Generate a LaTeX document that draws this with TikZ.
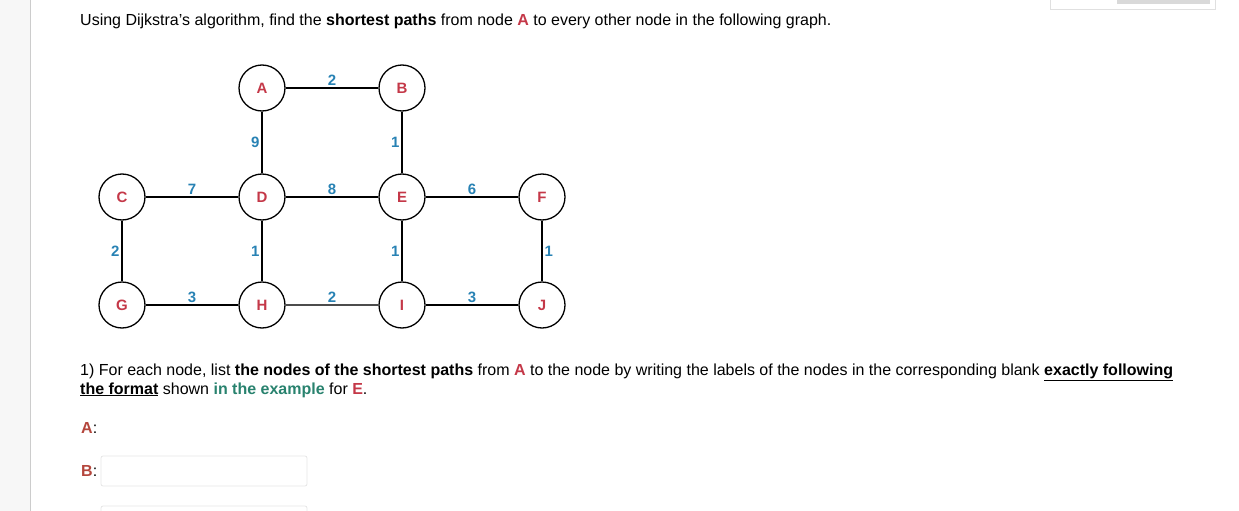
\documentclass[tikz,border=0pt]{standalone}
\usepackage{fontspec}
\setmainfont{Liberation Sans}
\definecolor{redA}{RGB}{196,56,72}
\definecolor{wblue}{RGB}{40,130,180}
\definecolor{tgreen}{RGB}{40,130,110}
\definecolor{lbrown}{RGB}{180,70,60}
\begin{document}
\begin{tikzpicture}[x=1pt,y=-1pt,
  vtx/.style={circle,draw,line width=1.3pt,minimum size=46pt,inner sep=0pt,font=\fontsize{15}{15}\selectfont\bfseries,text=redA},
  edge/.style={line width=1.2pt},
  wt/.style={font=\fontsize{15}{15}\selectfont\bfseries,text=wblue,inner sep=2pt},
  txt/.style={font=\fontsize{16}{19}\selectfont,anchor=west,inner sep=0pt},
  blank/.style={draw=black!10,rounded corners=2pt,line width=0.8pt}]
\useasboundingbox (0,0) rectangle (1239,511);
\fill[black!3] (0,0) rectangle (30,511);
\draw[black!20,line width=1pt] (30,0) -- (30,511);
\draw[black!12,line width=1pt] (1050,0) -- (1050,10) -- (1215,10) -- (1215,0);
\fill[black!15] (1117,0) rectangle (1210,4);
\node[txt] (t1) at (80,21) {Using Dijkstra's algorithm, find the \textbf{shortest paths} from node \textcolor{redA}{\textbf{A}} to every other node in the following graph.};
\node[vtx] (A) at (262,88) {A};
\node[vtx] (B) at (402,88) {B};
\node[vtx] (C) at (122,197) {C};
\node[vtx] (D) at (262,197) {D};
\node[vtx] (E) at (402,197) {E};
\node[vtx] (F) at (542,197) {F};
\node[vtx] (G) at (122,305) {G};
\node[vtx] (H) at (262,305) {H};
\node[vtx] (I) at (402,305) {I};
\node[vtx] (J) at (542,305) {J};
\draw[edge] (A) -- node[wt,above] {2} (B);
\draw[edge] (A) -- node[wt,left] {9} (D);
\draw[edge] (B) -- node[wt,left] {1} (E);
\draw[edge] (C) -- node[wt,above] {7} (D);
\draw[edge] (D) -- node[wt,above] {8} (E);
\draw[edge] (E) -- node[wt,above] {6} (F);
\draw[edge] (C) -- node[wt,left] {2} (G);
\draw[edge] (D) -- node[wt,left] {1} (H);
\draw[edge] (E) -- node[wt,left] {1} (I);
\draw[edge] (F) -- node[wt,right] {1} (J);
\draw[edge] (G) -- node[wt,above] {3} (H);
\draw[edge,black!70] (H) -- node[wt,above] {2} (I);
\draw[edge] (I) -- node[wt,above] {3} (J);
\node[txt] (q1) at (80,372) {1) For each node, list \textbf{the nodes of the shortest paths} from \textcolor{redA}{\textbf{A}} to the node by writing the labels of the nodes in the corresponding blank \textbf{\underline{exactly following}}};
\node[txt] (q2) at (80,390) {\textbf{\underline{the format}} shown \textcolor{tgreen}{\textbf{in the example}} for \textcolor{redA}{\textbf{E}}.};
\node[txt] (la) at (81,428) {\textcolor{lbrown}{\textbf{A}}:};
\node[txt] (lb) at (81,471) {\textcolor{lbrown}{\textbf{B}}:};
\draw[blank] (101,456) rectangle (307,486);
\draw[blank] (101,506) rectangle (307,520);
\end{tikzpicture}
\end{document}
